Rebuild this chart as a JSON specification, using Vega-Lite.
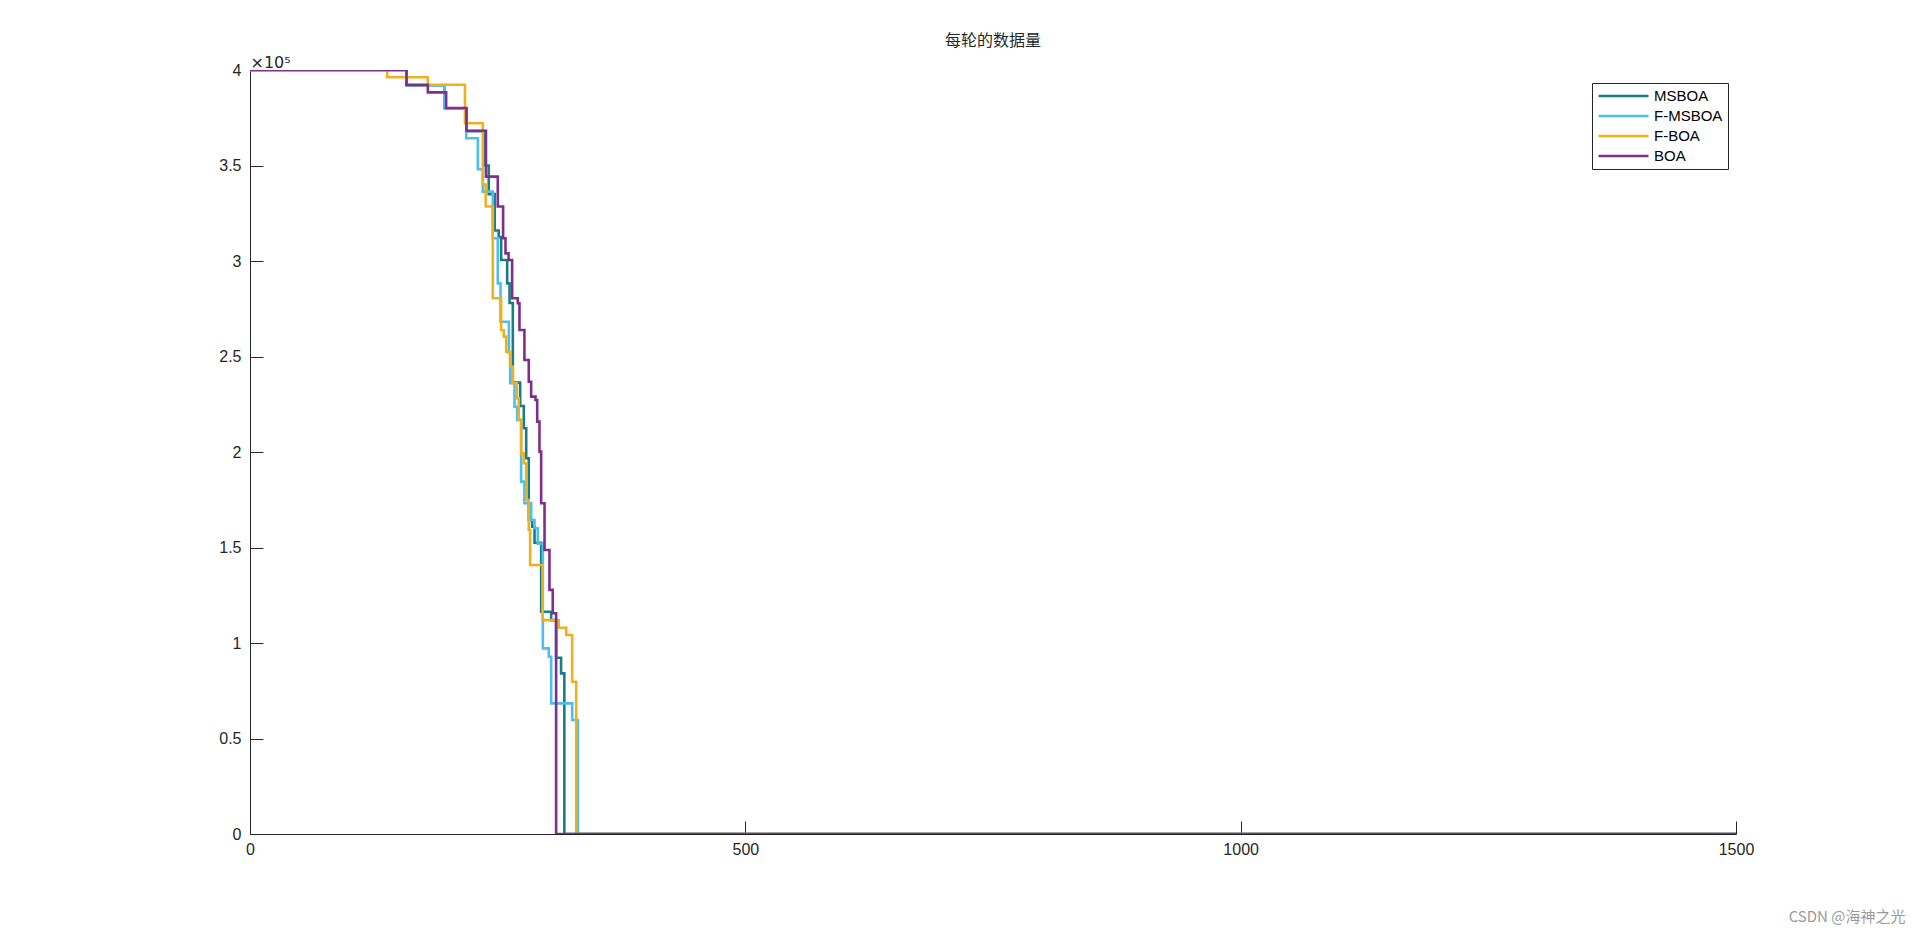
{
  "$schema": "https://vega.github.io/schema/vega-lite/v6.json",
  "autosize": "none",
  "width": 1486,
  "height": 764,
  "padding": {"left": 250, "top": 70, "right": 184, "bottom": 103},
  "background": "white",
  "title": {
    "text": "每轮的数据量",
    "font": "Noto Sans CJK SC",
    "fontSize": 16,
    "fontWeight": "normal",
    "color": "#262626",
    "anchor": "middle",
    "frame": "group",
    "baseline": "alphabetic",
    "offset": 0,
    "dy": 8
  },
  "config": {
    "view": {"stroke": null},
    "font": "Liberation Sans",
    "axis": {
      "grid": false,
      "domainColor": "#262626",
      "tickColor": "#262626",
      "labelColor": "#262626",
      "labelFont": "Liberation Sans",
      "labelFontSize": 16,
      "labelFlush": false,
      "tickSize": -13,
      "domainWidth": 1,
      "tickWidth": 1
    }
  },
  "data": {
    "values": [
      {"alg": "MSBOA", "iter": 0, "n": 400000},
      {"alg": "MSBOA", "iter": 158, "n": 392000},
      {"alg": "MSBOA", "iter": 196.5, "n": 380000},
      {"alg": "MSBOA", "iter": 218.5, "n": 368000},
      {"alg": "MSBOA", "iter": 237, "n": 350000},
      {"alg": "MSBOA", "iter": 241, "n": 335000},
      {"alg": "MSBOA", "iter": 247, "n": 316000},
      {"alg": "MSBOA", "iter": 251, "n": 312500},
      {"alg": "MSBOA", "iter": 253.5, "n": 300500},
      {"alg": "MSBOA", "iter": 259.6, "n": 288300},
      {"alg": "MSBOA", "iter": 262, "n": 278000},
      {"alg": "MSBOA", "iter": 265.3, "n": 236300},
      {"alg": "MSBOA", "iter": 272.7, "n": 224100},
      {"alg": "MSBOA", "iter": 276.4, "n": 212400},
      {"alg": "MSBOA", "iter": 278.8, "n": 196700},
      {"alg": "MSBOA", "iter": 281.4, "n": 164400},
      {"alg": "MSBOA", "iter": 284.8, "n": 160900},
      {"alg": "MSBOA", "iter": 287.2, "n": 152500},
      {"alg": "MSBOA", "iter": 293.9, "n": 116400},
      {"alg": "MSBOA", "iter": 304, "n": 112000},
      {"alg": "MSBOA", "iter": 309, "n": 92300},
      {"alg": "MSBOA", "iter": 314, "n": 84100},
      {"alg": "MSBOA", "iter": 317.3, "n": 0},
      {"alg": "MSBOA", "iter": 1500, "n": 0},

      {"alg": "F-MSBOA", "iter": 0, "n": 400000},
      {"alg": "F-MSBOA", "iter": 158, "n": 392000},
      {"alg": "F-MSBOA", "iter": 196.5, "n": 380000},
      {"alg": "F-MSBOA", "iter": 218.3, "n": 364300},
      {"alg": "F-MSBOA", "iter": 230, "n": 348000},
      {"alg": "F-MSBOA", "iter": 235, "n": 336300},
      {"alg": "F-MSBOA", "iter": 245.1, "n": 311900},
      {"alg": "F-MSBOA", "iter": 250.1, "n": 288300},
      {"alg": "F-MSBOA", "iter": 252.9, "n": 268200},
      {"alg": "F-MSBOA", "iter": 261.3, "n": 252000},
      {"alg": "F-MSBOA", "iter": 262.6, "n": 236000},
      {"alg": "F-MSBOA", "iter": 267, "n": 223700},
      {"alg": "F-MSBOA", "iter": 269.7, "n": 216800},
      {"alg": "F-MSBOA", "iter": 273.7, "n": 184500},
      {"alg": "F-MSBOA", "iter": 277, "n": 173200},
      {"alg": "F-MSBOA", "iter": 283.8, "n": 164400},
      {"alg": "F-MSBOA", "iter": 287.2, "n": 160100},
      {"alg": "F-MSBOA", "iter": 290.5, "n": 152000},
      {"alg": "F-MSBOA", "iter": 295.6, "n": 97200},
      {"alg": "F-MSBOA", "iter": 301.6, "n": 92800},
      {"alg": "F-MSBOA", "iter": 304, "n": 68400},
      {"alg": "F-MSBOA", "iter": 325.2, "n": 59700},
      {"alg": "F-MSBOA", "iter": 330.9, "n": 0},
      {"alg": "F-MSBOA", "iter": 1500, "n": 0},

      {"alg": "F-BOA", "iter": 0, "n": 400000},
      {"alg": "F-BOA", "iter": 138.5, "n": 396200},
      {"alg": "F-BOA", "iter": 179.5, "n": 392300},
      {"alg": "F-BOA", "iter": 217, "n": 372100},
      {"alg": "F-BOA", "iter": 235, "n": 340000},
      {"alg": "F-BOA", "iter": 238, "n": 328500},
      {"alg": "F-BOA", "iter": 245.1, "n": 280500},
      {"alg": "F-BOA", "iter": 253.5, "n": 263900},
      {"alg": "F-BOA", "iter": 256.2, "n": 260400},
      {"alg": "F-BOA", "iter": 258.6, "n": 252500},
      {"alg": "F-BOA", "iter": 262.6, "n": 244700},
      {"alg": "F-BOA", "iter": 265.3, "n": 236000},
      {"alg": "F-BOA", "iter": 269.3, "n": 228100},
      {"alg": "F-BOA", "iter": 271.3, "n": 216800},
      {"alg": "F-BOA", "iter": 273.7, "n": 199300},
      {"alg": "F-BOA", "iter": 276.4, "n": 194100},
      {"alg": "F-BOA", "iter": 278.8, "n": 174900},
      {"alg": "F-BOA", "iter": 281.4, "n": 159200},
      {"alg": "F-BOA", "iter": 282.8, "n": 140800},
      {"alg": "F-BOA", "iter": 295.4, "n": 112000},
      {"alg": "F-BOA", "iter": 311.7, "n": 108000},
      {"alg": "F-BOA", "iter": 319.2, "n": 104200},
      {"alg": "F-BOA", "iter": 325.2, "n": 79700},
      {"alg": "F-BOA", "iter": 329.3, "n": 0},
      {"alg": "F-BOA", "iter": 1500, "n": 0},

      {"alg": "BOA", "iter": 0, "n": 400000},
      {"alg": "BOA", "iter": 158, "n": 392200},
      {"alg": "BOA", "iter": 179.5, "n": 388300},
      {"alg": "BOA", "iter": 198, "n": 380100},
      {"alg": "BOA", "iter": 218.5, "n": 368200},
      {"alg": "BOA", "iter": 238.2, "n": 344200},
      {"alg": "BOA", "iter": 250.1, "n": 328500},
      {"alg": "BOA", "iter": 255.5, "n": 311900},
      {"alg": "BOA", "iter": 257.9, "n": 304000},
      {"alg": "BOA", "iter": 261, "n": 300500},
      {"alg": "BOA", "iter": 264.6, "n": 280500},
      {"alg": "BOA", "iter": 270.3, "n": 277900},
      {"alg": "BOA", "iter": 272, "n": 263900},
      {"alg": "BOA", "iter": 277, "n": 248200},
      {"alg": "BOA", "iter": 281.4, "n": 236800},
      {"alg": "BOA", "iter": 283.8, "n": 229000},
      {"alg": "BOA", "iter": 288.2, "n": 227200},
      {"alg": "BOA", "iter": 289.9, "n": 215900},
      {"alg": "BOA", "iter": 292.2, "n": 200200},
      {"alg": "BOA", "iter": 293.9, "n": 173200},
      {"alg": "BOA", "iter": 297.3, "n": 148700},
      {"alg": "BOA", "iter": 302.3, "n": 127800},
      {"alg": "BOA", "iter": 305.6, "n": 115600},
      {"alg": "BOA", "iter": 309, "n": 0},
      {"alg": "BOA", "iter": 1500, "n": 0}
    ]
  },
  "mark": {"type": "line", "interpolate": "step-after", "strokeWidth": 2.6, "clip": true},
  "encoding": {
    "x": {
      "field": "iter",
      "type": "quantitative",
      "scale": {"domain": [0, 1500], "nice": false},
      "axis": {
        "values": [0, 500, 1000, 1500],
        "format": "d",
        "labelPadding": 20,
        "title": "CSDN @海神之光",
        "titleFont": "Noto Sans CJK SC",
        "titleFontSize": 15,
        "titleFontWeight": "normal",
        "titleColor": "#9a9a9a",
        "titleAlign": "right",
        "titleAnchor": null,
        "titleX": 1655,
        "titleY": 82,
        "titleBaseline": "middle"
      }
    },
    "y": {
      "field": "n",
      "type": "quantitative",
      "scale": {"domain": [0, 400000], "nice": false},
      "axis": {
        "values": [0, 50000, 100000, 150000, 200000, 250000, 300000, 350000, 400000],
        "labelExpr": "datum.value / 100000",
        "labelPadding": 22,
        "title": "×10⁵",
        "titleFont": "DejaVu Sans",
        "titleFontSize": 16,
        "titleFontWeight": "normal",
        "titleColor": "#262626",
        "titleAngle": 0,
        "titleAlign": "left",
        "titleAnchor": null,
        "titleX": 0,
        "titleY": -3,
        "titleBaseline": "alphabetic"
      }
    },
    "color": {
      "field": "alg",
      "type": "nominal",
      "sort": ["MSBOA", "F-MSBOA", "F-BOA", "BOA"],
      "scale": {
        "domain": ["MSBOA", "F-MSBOA", "F-BOA", "BOA"],
        "range": ["#1A7D82", "#4DBEEE", "#EDB120", "#7E2F8E"]
      },
      "legend": {
        "title": null,
        "orient": "none",
        "legendX": 1342,
        "legendY": 13,
        "direction": "vertical",
        "strokeColor": "#262626",
        "fillColor": "white",
        "padding": 5,
        "symbolType": "stroke",
        "symbolSize": 2500,
        "symbolStrokeWidth": 2.5,
        "clipHeight": 16,
        "labelFont": "Liberation Sans",
        "labelFontSize": 15,
        "labelColor": "black",
        "labelOffset": 4,
        "rowPadding": 4
      }
    },
    "order": {"field": "iter", "type": "quantitative"}
  }
}
